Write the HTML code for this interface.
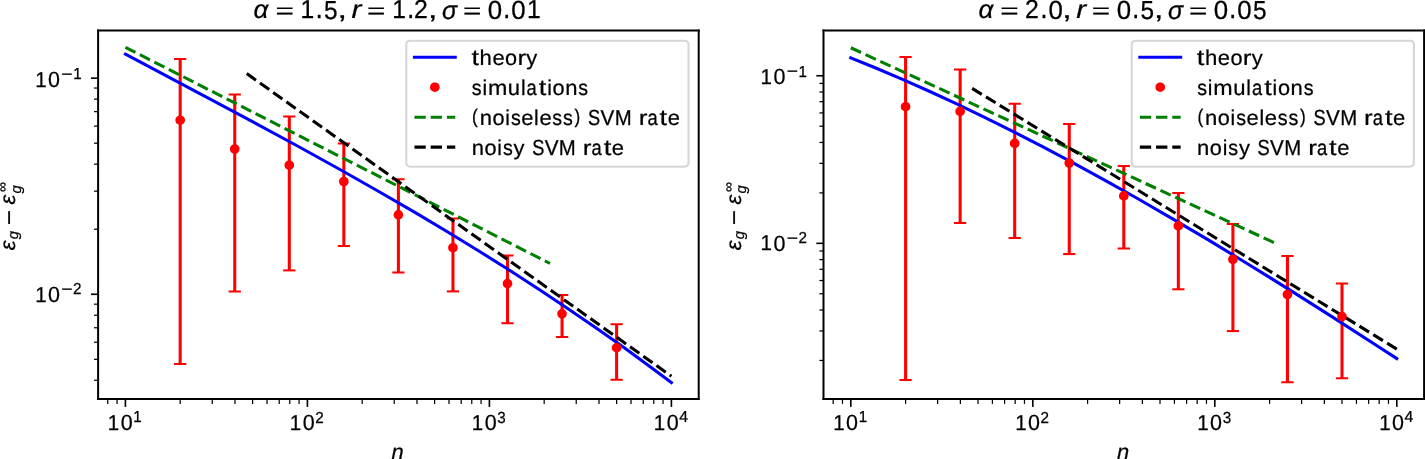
<!DOCTYPE html>
<html><head><meta charset="utf-8"><title>SVM learning curves</title>
<style>html,body{margin:0;padding:0;background:#fff;}body{width:1425px;height:459px;overflow:hidden;font-family:"Liberation Sans",sans-serif;}svg{display:block;will-change:transform;text-rendering:geometricPrecision;}</style>
</head><body>
<svg width="1425" height="459" viewBox="0 0 697.959184 224.816327" version="1.1"> <defs> <style type="text/css">*{stroke-linejoin: round; stroke-linecap: butt}</style> </defs> <g id="figure_1" font-family="'Liberation Sans', sans-serif"> <g id="patch_1"> <path d="M 0 224.816327  L 697.959184 224.816327  L 697.959184 0  L 0 0  z " style="fill: #ffffff"/> </g> <g id="axes_1"> <g id="patch_2"> <path d="M 48.04898 195.404082  L 342.220408 195.404082  L 342.220408 14.938776  L 48.04898 14.938776  z " style="fill: #ffffff"/> </g> <g id="matplotlib.axis_1"> <g id="xtick_1"> <g id="line2d_1"> <defs> <path id="mb4062c91aa" d="M 0 0  L 0 3.916327  " style="stroke: #000000; stroke-width: 0.8"/> </defs> <g> <use href="#mb4062c91aa" x="61.420408" y="195.404082" style="stroke: #000000; stroke-width: 0.8"/> </g> </g> <g id="text_1"> <g transform="translate(52.4735 210.5783)"><text transform="translate(0.332 -0.064) scale(1.0068 1.0596)" font-size="10.000" stroke="#000" stroke-width="0.119">1</text><text transform="translate(6.610 -0.027) scale(1.0541 1.0683)" font-size="10.000" stroke="#000" stroke-width="0.114">0</text><text transform="translate(12.819 -3.640) scale(1.0068 1.0596)" font-size="7.350" stroke="#000" stroke-width="0.119">1</text></g> </g> </g> <g id="xtick_2"> <g id="line2d_2"> <g> <use href="#mb4062c91aa" x="150.563265" y="195.404082" style="stroke: #000000; stroke-width: 0.8"/> </g> </g> <g id="text_2"> <g transform="translate(141.6163 211.4908)"><text transform="translate(0.332 -0.977) scale(1.0068 1.0596)" font-size="10.000" stroke="#000" stroke-width="0.119">1</text><text transform="translate(6.610 -0.939) scale(1.0541 1.0683)" font-size="10.000" stroke="#000" stroke-width="0.114">0</text><text transform="translate(12.738 -4.552) scale(1.0161 1.0629)" font-size="7.350" stroke="#000" stroke-width="0.118">2</text></g> </g> </g> <g id="xtick_3"> <g id="line2d_3"> <g> <use href="#mb4062c91aa" x="239.706122" y="195.404082" style="stroke: #000000; stroke-width: 0.8"/> </g> </g> <g id="text_3"> <g transform="translate(230.7592 211.4908)"><text transform="translate(0.332 -0.977) scale(1.0068 1.0596)" font-size="10.000" stroke="#000" stroke-width="0.119">1</text><text transform="translate(6.610 -0.939) scale(1.0541 1.0683)" font-size="10.000" stroke="#000" stroke-width="0.114">0</text><text transform="translate(12.852 -4.525) scale(1.0124 1.0683)" font-size="7.350" stroke="#000" stroke-width="0.119">3</text></g> </g> </g> <g id="xtick_4"> <g id="line2d_4"> <g> <use href="#mb4062c91aa" x="328.84898" y="195.404082" style="stroke: #000000; stroke-width: 0.8"/> </g> </g> <g id="text_4"> <g transform="translate(319.9020 210.5783)"><text transform="translate(0.332 -0.064) scale(1.0068 1.0596)" font-size="10.000" stroke="#000" stroke-width="0.119">1</text><text transform="translate(6.610 -0.027) scale(1.0541 1.0683)" font-size="10.000" stroke="#000" stroke-width="0.114">0</text><text transform="translate(12.756 -3.640) scale(1.0543 1.0596)" font-size="7.350" stroke="#000" stroke-width="0.114">4</text></g> </g> </g> <g id="xtick_5"> <g id="line2d_5"> <defs> <path id="m5da6026a95" d="M 0 0  L 0 2.416327  " style="stroke: #000000; stroke-width: 0.6"/> </defs> <g> <use href="#m5da6026a95" x="52.781573" y="195.404082" style="stroke: #000000; stroke-width: 0.6"/> </g> </g> </g> <g id="xtick_6"> <g id="line2d_6"> <g> <use href="#m5da6026a95" x="57.341455" y="195.404082" style="stroke: #000000; stroke-width: 0.6"/> </g> </g> </g> <g id="xtick_7"> <g id="line2d_7"> <g> <use href="#m5da6026a95" x="88.255082" y="195.404082" style="stroke: #000000; stroke-width: 0.6"/> </g> </g> </g> <g id="xtick_8"> <g id="line2d_8"> <g> <use href="#m5da6026a95" x="103.95236" y="195.404082" style="stroke: #000000; stroke-width: 0.6"/> </g> </g> </g> <g id="xtick_9"> <g id="line2d_9"> <g> <use href="#m5da6026a95" x="115.089756" y="195.404082" style="stroke: #000000; stroke-width: 0.6"/> </g> </g> </g> <g id="xtick_10"> <g id="line2d_10"> <g> <use href="#m5da6026a95" x="123.728591" y="195.404082" style="stroke: #000000; stroke-width: 0.6"/> </g> </g> </g> <g id="xtick_11"> <g id="line2d_11"> <g> <use href="#m5da6026a95" x="130.787034" y="195.404082" style="stroke: #000000; stroke-width: 0.6"/> </g> </g> </g> <g id="xtick_12"> <g id="line2d_12"> <g> <use href="#m5da6026a95" x="136.754862" y="195.404082" style="stroke: #000000; stroke-width: 0.6"/> </g> </g> </g> <g id="xtick_13"> <g id="line2d_13"> <g> <use href="#m5da6026a95" x="141.92443" y="195.404082" style="stroke: #000000; stroke-width: 0.6"/> </g> </g> </g> <g id="xtick_14"> <g id="line2d_14"> <g> <use href="#m5da6026a95" x="146.484312" y="195.404082" style="stroke: #000000; stroke-width: 0.6"/> </g> </g> </g> <g id="xtick_15"> <g id="line2d_15"> <g> <use href="#m5da6026a95" x="177.397939" y="195.404082" style="stroke: #000000; stroke-width: 0.6"/> </g> </g> </g> <g id="xtick_16"> <g id="line2d_16"> <g> <use href="#m5da6026a95" x="193.095217" y="195.404082" style="stroke: #000000; stroke-width: 0.6"/> </g> </g> </g> <g id="xtick_17"> <g id="line2d_17"> <g> <use href="#m5da6026a95" x="204.232613" y="195.404082" style="stroke: #000000; stroke-width: 0.6"/> </g> </g> </g> <g id="xtick_18"> <g id="line2d_18"> <g> <use href="#m5da6026a95" x="212.871449" y="195.404082" style="stroke: #000000; stroke-width: 0.6"/> </g> </g> </g> <g id="xtick_19"> <g id="line2d_19"> <g> <use href="#m5da6026a95" x="219.929891" y="195.404082" style="stroke: #000000; stroke-width: 0.6"/> </g> </g> </g> <g id="xtick_20"> <g id="line2d_20"> <g> <use href="#m5da6026a95" x="225.897719" y="195.404082" style="stroke: #000000; stroke-width: 0.6"/> </g> </g> </g> <g id="xtick_21"> <g id="line2d_21"> <g> <use href="#m5da6026a95" x="231.067287" y="195.404082" style="stroke: #000000; stroke-width: 0.6"/> </g> </g> </g> <g id="xtick_22"> <g id="line2d_22"> <g> <use href="#m5da6026a95" x="235.627169" y="195.404082" style="stroke: #000000; stroke-width: 0.6"/> </g> </g> </g> <g id="xtick_23"> <g id="line2d_23"> <g> <use href="#m5da6026a95" x="266.540796" y="195.404082" style="stroke: #000000; stroke-width: 0.6"/> </g> </g> </g> <g id="xtick_24"> <g id="line2d_24"> <g> <use href="#m5da6026a95" x="282.238074" y="195.404082" style="stroke: #000000; stroke-width: 0.6"/> </g> </g> </g> <g id="xtick_25"> <g id="line2d_25"> <g> <use href="#m5da6026a95" x="293.37547" y="195.404082" style="stroke: #000000; stroke-width: 0.6"/> </g> </g> </g> <g id="xtick_26"> <g id="line2d_26"> <g> <use href="#m5da6026a95" x="302.014306" y="195.404082" style="stroke: #000000; stroke-width: 0.6"/> </g> </g> </g> <g id="xtick_27"> <g id="line2d_27"> <g> <use href="#m5da6026a95" x="309.072748" y="195.404082" style="stroke: #000000; stroke-width: 0.6"/> </g> </g> </g> <g id="xtick_28"> <g id="line2d_28"> <g> <use href="#m5da6026a95" x="315.040576" y="195.404082" style="stroke: #000000; stroke-width: 0.6"/> </g> </g> </g> <g id="xtick_29"> <g id="line2d_29"> <g> <use href="#m5da6026a95" x="320.210144" y="195.404082" style="stroke: #000000; stroke-width: 0.6"/> </g> </g> </g> <g id="xtick_30"> <g id="line2d_30"> <g> <use href="#m5da6026a95" x="324.770026" y="195.404082" style="stroke: #000000; stroke-width: 0.6"/> </g> </g> </g> <g id="text_5"> <g transform="translate(191.5918 225.3704)"><text transform="translate(0.173 -0.406) scale(1.0741 1.0418)" font-size="10.000" font-style="italic" stroke="#000" stroke-width="0.112">n</text></g> </g> </g> <g id="matplotlib.axis_2"> <g id="ytick_1"> <g id="line2d_31"> <defs> <path id="m5d545ce8f8" d="M 0 0  L -3.5 0  " style="stroke: #000000; stroke-width: 0.8"/> </defs> <g> <use href="#m5d545ce8f8" x="48.04898" y="144.137143" style="stroke: #000000; stroke-width: 0.8"/> </g> </g> <g id="text_6"> <g transform="translate(16.9122 148.6843)"><text transform="translate(0.332 -0.977) scale(1.0068 1.0596)" font-size="10.000" stroke="#000" stroke-width="0.119">1</text><text transform="translate(6.610 -0.939) scale(1.0541 1.0683)" font-size="10.000" stroke="#000" stroke-width="0.114">0</text><text transform="translate(13.132 -4.157) scale(1.2884 1.1644)" font-size="7.350" stroke="#000" stroke-width="0.093">−</text><text transform="translate(18.848 -4.454) scale(1.0161 1.0629)" font-size="7.350" stroke="#000" stroke-width="0.118">2</text></g> </g> </g> <g id="ytick_2"> <g id="line2d_32"> <g> <use href="#m5d545ce8f8" x="48.04898" y="38.277551" style="stroke: #000000; stroke-width: 0.8"/> </g> </g> <g id="text_7"> <g transform="translate(16.9122 42.4657)"><text transform="translate(0.332 -0.064) scale(1.0068 1.0596)" font-size="10.000" stroke="#000" stroke-width="0.119">1</text><text transform="translate(6.610 -0.027) scale(1.0541 1.0683)" font-size="10.000" stroke="#000" stroke-width="0.114">0</text><text transform="translate(13.132 -3.245) scale(1.2884 1.1644)" font-size="7.350" stroke="#000" stroke-width="0.093">−</text><text transform="translate(18.929 -3.542) scale(1.0068 1.0596)" font-size="7.350" stroke="#000" stroke-width="0.119">1</text></g> </g> </g> <g id="ytick_3"> <g id="line2d_33"> <defs> <path id="mc3d89a154a" d="M 0 0  L -2 0  " style="stroke: #000000; stroke-width: 0.6"/> </defs> <g> <use href="#mc3d89a154a" x="48.04898" y="186.26291" style="stroke: #000000; stroke-width: 0.6"/> </g> </g> </g> <g id="ytick_4"> <g id="line2d_34"> <g> <use href="#mc3d89a154a" x="48.04898" y="176.004055" style="stroke: #000000; stroke-width: 0.6"/> </g> </g> </g> <g id="ytick_5"> <g id="line2d_35"> <g> <use href="#mc3d89a154a" x="48.04898" y="167.621961" style="stroke: #000000; stroke-width: 0.6"/> </g> </g> </g> <g id="ytick_6"> <g id="line2d_36"> <g> <use href="#mc3d89a154a" x="48.04898" y="160.535001" style="stroke: #000000; stroke-width: 0.6"/> </g> </g> </g> <g id="ytick_7"> <g id="line2d_37"> <g> <use href="#mc3d89a154a" x="48.04898" y="154.395997" style="stroke: #000000; stroke-width: 0.6"/> </g> </g> </g> <g id="ytick_8"> <g id="line2d_38"> <g> <use href="#mc3d89a154a" x="48.04898" y="148.981012" style="stroke: #000000; stroke-width: 0.6"/> </g> </g> </g> <g id="ytick_9"> <g id="line2d_39"> <g> <use href="#mc3d89a154a" x="48.04898" y="112.27023" style="stroke: #000000; stroke-width: 0.6"/> </g> </g> </g> <g id="ytick_10"> <g id="line2d_40"> <g> <use href="#mc3d89a154a" x="48.04898" y="93.629282" style="stroke: #000000; stroke-width: 0.6"/> </g> </g> </g> <g id="ytick_11"> <g id="line2d_41"> <g> <use href="#mc3d89a154a" x="48.04898" y="80.403318" style="stroke: #000000; stroke-width: 0.6"/> </g> </g> </g> <g id="ytick_12"> <g id="line2d_42"> <g> <use href="#mc3d89a154a" x="48.04898" y="70.144463" style="stroke: #000000; stroke-width: 0.6"/> </g> </g> </g> <g id="ytick_13"> <g id="line2d_43"> <g> <use href="#mc3d89a154a" x="48.04898" y="61.762369" style="stroke: #000000; stroke-width: 0.6"/> </g> </g> </g> <g id="ytick_14"> <g id="line2d_44"> <g> <use href="#mc3d89a154a" x="48.04898" y="54.675409" style="stroke: #000000; stroke-width: 0.6"/> </g> </g> </g> <g id="ytick_15"> <g id="line2d_45"> <g> <use href="#mc3d89a154a" x="48.04898" y="48.536405" style="stroke: #000000; stroke-width: 0.6"/> </g> </g> </g> <g id="ytick_16"> <g id="line2d_46"> <g> <use href="#mc3d89a154a" x="48.04898" y="43.12142" style="stroke: #000000; stroke-width: 0.6"/> </g> </g> </g> <g id="text_8"> <g transform="translate(8.1735 122.8122) rotate(-90)"><text transform="translate(0.212 -0.720) scale(1.0730 1.0500)" font-size="10.000" font-style="italic" stroke="#000" stroke-width="0.112">ε</text><text transform="translate(22.610 -0.720) scale(1.0730 1.0500)" font-size="10.000" font-style="italic" stroke="#000" stroke-width="0.112">ε</text><text transform="translate(5.617 0.840) scale(1.0340 1.0308)" font-size="7.000" font-style="italic" stroke="#000" stroke-width="0.116">g</text><text transform="translate(28.014 1.934) scale(1.0340 1.0308)" font-size="7.000" font-style="italic" stroke="#000" stroke-width="0.116">g</text><text transform="translate(12.494 -0.022) scale(1.2884 1.1644)" font-size="10.000" stroke="#000" stroke-width="0.093">−</text><text transform="translate(28.728 -4.687) scale(0.9844 0.9846)" font-size="7.000" stroke="#000" stroke-width="0.122">∞</text></g> </g> </g> <g id="LineCollection_1"> <path d="M 88.255082 178.334694  L 88.255082 28.897959  " clip-path="url(#p99e8277ba4)" style="fill: none; stroke: #ff0000; stroke-width: 1.5"/> <path d="M 114.974985 142.726531  L 114.974985 46.334694  " clip-path="url(#p99e8277ba4)" style="fill: none; stroke: #ff0000; stroke-width: 1.5"/> <path d="M 141.694888 132.440816  L 141.694888 57.061224  " clip-path="url(#p99e8277ba4)" style="fill: none; stroke: #ff0000; stroke-width: 1.5"/> <path d="M 168.414791 120.538776  L 168.414791 70.334694  " clip-path="url(#p99e8277ba4)" style="fill: none; stroke: #ff0000; stroke-width: 1.5"/> <path d="M 195.134694 133.469388  L 195.134694 87.820408  " clip-path="url(#p99e8277ba4)" style="fill: none; stroke: #ff0000; stroke-width: 1.5"/> <path d="M 221.854597 142.726531  L 221.854597 106.971429  " clip-path="url(#p99e8277ba4)" style="fill: none; stroke: #ff0000; stroke-width: 1.5"/> <path d="M 248.5745 158.302041  L 248.5745 125.142857  " clip-path="url(#p99e8277ba4)" style="fill: none; stroke: #ff0000; stroke-width: 1.5"/> <path d="M 275.294403 165.110204  L 275.294403 144.489796  " clip-path="url(#p99e8277ba4)" style="fill: none; stroke: #ff0000; stroke-width: 1.5"/> <path d="M 302.014306 185.97551  L 302.014306 158.840816  " clip-path="url(#p99e8277ba4)" style="fill: none; stroke: #ff0000; stroke-width: 1.5"/> </g> <g id="line2d_47"> <defs> <path id="m98ba5d0a64" d="M 3 0  L -3 -0  " style="stroke: #ff0000"/> </defs> <g clip-path="url(#p99e8277ba4)"> <use href="#m98ba5d0a64" x="88.255082" y="178.334694" style="fill: #1f77b4; stroke: #ff0000"/> <use href="#m98ba5d0a64" x="114.974985" y="142.726531" style="fill: #1f77b4; stroke: #ff0000"/> <use href="#m98ba5d0a64" x="141.694888" y="132.440816" style="fill: #1f77b4; stroke: #ff0000"/> <use href="#m98ba5d0a64" x="168.414791" y="120.538776" style="fill: #1f77b4; stroke: #ff0000"/> <use href="#m98ba5d0a64" x="195.134694" y="133.469388" style="fill: #1f77b4; stroke: #ff0000"/> <use href="#m98ba5d0a64" x="221.854597" y="142.726531" style="fill: #1f77b4; stroke: #ff0000"/> <use href="#m98ba5d0a64" x="248.5745" y="158.302041" style="fill: #1f77b4; stroke: #ff0000"/> <use href="#m98ba5d0a64" x="275.294403" y="165.110204" style="fill: #1f77b4; stroke: #ff0000"/> <use href="#m98ba5d0a64" x="302.014306" y="185.97551" style="fill: #1f77b4; stroke: #ff0000"/> </g> </g> <g id="line2d_48"> <g clip-path="url(#p99e8277ba4)"> <use href="#m98ba5d0a64" x="88.255082" y="28.897959" style="fill: #1f77b4; stroke: #ff0000"/> <use href="#m98ba5d0a64" x="114.974985" y="46.334694" style="fill: #1f77b4; stroke: #ff0000"/> <use href="#m98ba5d0a64" x="141.694888" y="57.061224" style="fill: #1f77b4; stroke: #ff0000"/> <use href="#m98ba5d0a64" x="168.414791" y="70.334694" style="fill: #1f77b4; stroke: #ff0000"/> <use href="#m98ba5d0a64" x="195.134694" y="87.820408" style="fill: #1f77b4; stroke: #ff0000"/> <use href="#m98ba5d0a64" x="221.854597" y="106.971429" style="fill: #1f77b4; stroke: #ff0000"/> <use href="#m98ba5d0a64" x="248.5745" y="125.142857" style="fill: #1f77b4; stroke: #ff0000"/> <use href="#m98ba5d0a64" x="275.294403" y="144.489796" style="fill: #1f77b4; stroke: #ff0000"/> <use href="#m98ba5d0a64" x="302.014306" y="158.840816" style="fill: #1f77b4; stroke: #ff0000"/> </g> </g> <g id="line2d_49"> <path d="M 61.420408 26.552547  L 120.451464 57.844123  L 145.494942 71.396594  L 166.960781 83.265566  L 185.74339 93.898895  L 203.631588 104.284883  L 219.730967 113.88151  L 234.935936 123.18871  L 250.140905 132.757383  L 264.451464 142.023756  L 278.762023 151.563429  L 292.178172 160.773056  L 305.594321 170.257303  L 318.11606 179.371726  L 328.84898 187.396301  L 328.84898 187.396301  " clip-path="url(#p99e8277ba4)" style="fill: none; stroke: #0000ff; stroke-width: 1.5; stroke-linecap: square"/> </g> <g id="line2d_50"> <path d="M 61.420408 23.167347  L 269.420408 129.061224  " clip-path="url(#p99e8277ba4)" style="fill: none; stroke-dasharray: 5.55,2.4; stroke-dashoffset: 0; stroke: #008000; stroke-width: 1.5"/> </g> <g id="line2d_51"> <path d="M 120.84898 36.04898  L 328.84898 184.261224  " clip-path="url(#p99e8277ba4)" style="fill: none; stroke-dasharray: 5.55,2.4; stroke-dashoffset: 0; stroke: #000000; stroke-width: 1.5"/> </g> <g id="line2d_52"> <defs> <path id="m5010040dd1" d="M 0 2.35  C 0.623227 2.35 1.221013 2.102389 1.661701 1.661701  C 2.102389 1.221013 2.35 0.623227 2.35 0  C 2.35 -0.623227 2.102389 -1.221013 1.661701 -1.661701  C 1.221013 -2.102389 0.623227 -2.35 0 -2.35  C -0.623227 -2.35 -1.221013 -2.102389 -1.661701 -1.661701  C -2.102389 -1.221013 -2.35 -0.623227 -2.35 0  C -2.35 0.623227 -2.102389 1.221013 -1.661701 1.661701  C -1.221013 2.102389 -0.623227 2.35 0 2.35  z "/> </defs> <g clip-path="url(#p99e8277ba4)"> <use href="#m5010040dd1" x="88.255082" y="58.873469" style="fill: #ff0000"/> <use href="#m5010040dd1" x="114.974985" y="72.979592" style="fill: #ff0000"/> <use href="#m5010040dd1" x="141.694888" y="80.914286" style="fill: #ff0000"/> <use href="#m5010040dd1" x="168.414791" y="88.897959" style="fill: #ff0000"/> <use href="#m5010040dd1" x="195.134694" y="105.208163" style="fill: #ff0000"/> <use href="#m5010040dd1" x="221.854597" y="121.322449" style="fill: #ff0000"/> <use href="#m5010040dd1" x="248.5745" y="138.906122" style="fill: #ff0000"/> <use href="#m5010040dd1" x="275.294403" y="153.697959" style="fill: #ff0000"/> <use href="#m5010040dd1" x="302.014306" y="170.302041" style="fill: #ff0000"/> </g> </g> <g id="patch_3"> <path d="M 48.04898 195.404082  L 48.04898 14.938776  " style="fill: none; stroke: #000000; stroke-width: 0.979592; stroke-linejoin: miter; stroke-linecap: square"/> </g> <g id="patch_4"> <path d="M 342.220408 195.404082  L 342.220408 14.938776  " style="fill: none; stroke: #000000; stroke-width: 0.979592; stroke-linejoin: miter; stroke-linecap: square"/> </g> <g id="patch_5"> <path d="M 48.04898 195.404082  L 342.220408 195.404082  " style="fill: none; stroke: #000000; stroke-width: 0.979592; stroke-linejoin: miter; stroke-linecap: square"/> </g> <g id="patch_6"> <path d="M 48.04898 14.938776  L 342.220408 14.938776  " style="fill: none; stroke: #000000; stroke-width: 0.979592; stroke-linejoin: miter; stroke-linecap: square"/> </g> <g id="text_9"> <g transform="translate(124.1229 9.1347)"><text transform="translate(0.101 -0.075) scale(1.0721 1.0429)" font-size="12.000" font-style="italic" stroke="#000" stroke-width="0.112">α</text><text transform="translate(48.055 -0.094) scale(1.2218 1.0408)" font-size="12.000" font-style="italic" stroke="#000" stroke-width="0.098">r</text><text transform="translate(92.320 -0.046) scale(1.0172 1.0436)" font-size="12.000" font-style="italic" stroke="#000" stroke-width="0.118">σ</text><text transform="translate(10.765 -0.391) scale(1.2884 0.8758)" font-size="12.000" stroke="#000" stroke-width="0.093">=</text><text transform="translate(23.039 -0.094) scale(1.0068 1.0596)" font-size="12.000" stroke="#000" stroke-width="0.119">1</text><text transform="translate(30.373 -0.094) scale(1.0821 1.1598)" font-size="12.000" stroke="#000" stroke-width="0.111">.</text><text transform="translate(34.538 -0.049) scale(0.9949 1.0651)" font-size="12.000" stroke="#000" stroke-width="0.121">5</text><text transform="translate(41.079 -0.269) scale(1.4577 1.0229)" font-size="12.000" stroke="#000" stroke-width="0.082">,</text><text transform="translate(55.665 -0.391) scale(1.2884 0.8758)" font-size="12.000" stroke="#000" stroke-width="0.093">=</text><text transform="translate(67.939 -0.094) scale(1.0068 1.0596)" font-size="12.000" stroke="#000" stroke-width="0.119">1</text><text transform="translate(75.273 -0.094) scale(1.0821 1.1598)" font-size="12.000" stroke="#000" stroke-width="0.111">.</text><text transform="translate(78.631 -0.094) scale(1.0161 1.0629)" font-size="12.000" stroke="#000" stroke-width="0.118">2</text><text transform="translate(85.354 -0.269) scale(1.4577 1.0229)" font-size="12.000" stroke="#000" stroke-width="0.082">,</text><text transform="translate(102.612 -0.391) scale(1.2884 0.8758)" font-size="12.000" stroke="#000" stroke-width="0.093">=</text><text transform="translate(114.785 -0.049) scale(1.0541 1.0683)" font-size="12.000" stroke="#000" stroke-width="0.114">0</text><text transform="translate(122.221 -0.094) scale(1.0821 1.1598)" font-size="12.000" stroke="#000" stroke-width="0.111">.</text><text transform="translate(126.234 -0.049) scale(1.0541 1.0683)" font-size="12.000" stroke="#000" stroke-width="0.114">0</text><text transform="translate(133.970 -0.094) scale(1.0068 1.0596)" font-size="12.000" stroke="#000" stroke-width="0.119">1</text></g> </g> <g id="legend_1"> <g id="patch_7"> <path d="M 200.984471 81.651276  L 335.220408 81.651276  Q 337.220408 81.651276 337.220408 79.651276  L 337.220408 21.938776  Q 337.220408 19.938776 335.220408 19.938776  L 200.984471 19.938776  Q 198.984471 19.938776 198.984471 21.938776  L 198.984471 79.651276  Q 198.984471 81.651276 200.984471 81.651276  z " style="fill: #ffffff; opacity: 0.8; stroke: #cccccc; stroke-linejoin: miter"/> </g> <g id="line2d_53"> <path d="M 202.984471 28.037213  L 212.984471 28.037213  L 222.984471 28.037213  " style="fill: none; stroke: #0000ff; stroke-width: 1.5; stroke-linecap: square"/> </g> <g id="text_10"> <text transform="translate(230.904 31.674) scale(1.3365 1.0731)" font-size="10.000" stroke="#000" stroke-width="0.090">t</text><text transform="translate(234.914 31.758) scale(1.0856 1.0485)" font-size="10.000" stroke="#000" stroke-width="0.111">h</text><text transform="translate(241.189 31.797) scale(1.0801 1.0481)" font-size="10.000" stroke="#000" stroke-width="0.111">e</text><text transform="translate(247.354 31.797) scale(1.0631 1.0481)" font-size="10.000" stroke="#000" stroke-width="0.113">o</text><text transform="translate(253.424 31.758) scale(1.2812 1.0408)" font-size="10.000" stroke="#000" stroke-width="0.094">r</text><text transform="translate(257.750 31.709) scale(1.0739 1.0259)" font-size="10.000" stroke="#000" stroke-width="0.112">y</text> </g> <g id="line2d_54"> <g> <use href="#m5010040dd1" x="212.984471" y="42.715338" style="fill: #ff0000"/> </g> </g> <g id="text_11"> <text transform="translate(231.113 46.475) scale(0.9586 1.0509)" font-size="10.000" stroke="#000" stroke-width="0.125">s</text><text transform="translate(236.306 46.436) scale(1.0222 1.0485)" font-size="10.000" stroke="#000" stroke-width="0.117">i</text><text transform="translate(238.977 46.436) scale(1.1394 1.0408)" font-size="10.000" stroke="#000" stroke-width="0.105">m</text><text transform="translate(248.716 46.473) scale(1.0782 1.0672)" font-size="10.000" stroke="#000" stroke-width="0.111">u</text><text transform="translate(255.158 46.436) scale(1.0222 1.0485)" font-size="10.000" stroke="#000" stroke-width="0.117">l</text><text transform="translate(257.902 46.475) scale(0.8992 1.0481)" font-size="10.000" stroke="#000" stroke-width="0.133">a</text><text transform="translate(263.877 46.352) scale(1.3365 1.0731)" font-size="10.000" stroke="#000" stroke-width="0.090">t</text><text transform="translate(267.991 46.436) scale(1.0222 1.0485)" font-size="10.000" stroke="#000" stroke-width="0.117">i</text><text transform="translate(270.616 46.475) scale(1.0631 1.0481)" font-size="10.000" stroke="#000" stroke-width="0.113">o</text><text transform="translate(276.821 46.436) scale(1.0782 1.0408)" font-size="10.000" stroke="#000" stroke-width="0.111">n</text><text transform="translate(283.242 46.475) scale(0.9586 1.0509)" font-size="10.000" stroke="#000" stroke-width="0.125">s</text> </g> <g id="line2d_55"> <path d="M 202.984471 57.393463  L 212.984471 57.393463  L 222.984471 57.393463  " style="fill: none; stroke-dasharray: 5.55,2.4; stroke-dashoffset: 0; stroke: #008000; stroke-width: 1.5"/> </g> <g id="text_12"> <text transform="translate(231.173 60.453) scale(0.8453 0.9560)" font-size="10.000" stroke="#000" stroke-width="0.142">(</text><text transform="translate(234.931 61.114) scale(1.0782 1.0408)" font-size="10.000" stroke="#000" stroke-width="0.111">n</text><text transform="translate(241.182 61.153) scale(1.0631 1.0481)" font-size="10.000" stroke="#000" stroke-width="0.113">o</text><text transform="translate(247.454 61.114) scale(1.0222 1.0485)" font-size="10.000" stroke="#000" stroke-width="0.117">i</text><text transform="translate(250.248 61.153) scale(0.9586 1.0509)" font-size="10.000" stroke="#000" stroke-width="0.125">s</text><text transform="translate(255.276 61.153) scale(1.0801 1.0481)" font-size="10.000" stroke="#000" stroke-width="0.111">e</text><text transform="translate(261.589 61.114) scale(1.0222 1.0485)" font-size="10.000" stroke="#000" stroke-width="0.117">l</text><text transform="translate(264.207 61.153) scale(1.0801 1.0481)" font-size="10.000" stroke="#000" stroke-width="0.111">e</text><text transform="translate(270.541 61.153) scale(0.9586 1.0509)" font-size="10.000" stroke="#000" stroke-width="0.125">s</text><text transform="translate(275.751 61.153) scale(0.9586 1.0509)" font-size="10.000" stroke="#000" stroke-width="0.125">s</text><text transform="translate(281.437 60.453) scale(0.8453 0.9560)" font-size="10.000" stroke="#000" stroke-width="0.142">)</text><text transform="translate(288.021 61.151) scale(0.8914 1.0683)" font-size="10.000" stroke="#000" stroke-width="0.135">S</text><text transform="translate(294.147 61.114) scale(1.0148 1.0596)" font-size="10.000" stroke="#000" stroke-width="0.118">V</text><text transform="translate(301.118 61.114) scale(0.9971 1.0596)" font-size="10.000" stroke="#000" stroke-width="0.120">M</text><text transform="translate(312.819 61.114) scale(1.2812 1.0408)" font-size="10.000" stroke="#000" stroke-width="0.094">r</text><text transform="translate(317.091 61.153) scale(0.8992 1.0481)" font-size="10.000" stroke="#000" stroke-width="0.133">a</text><text transform="translate(323.067 61.030) scale(1.3365 1.0731)" font-size="10.000" stroke="#000" stroke-width="0.090">t</text><text transform="translate(327.014 61.153) scale(1.0801 1.0481)" font-size="10.000" stroke="#000" stroke-width="0.111">e</text> </g> <g id="line2d_56"> <path d="M 202.984471 72.071588  L 212.984471 72.071588  L 222.984471 72.071588  " style="fill: none; stroke-dasharray: 5.55,2.4; stroke-dashoffset: 0; stroke: #000000; stroke-width: 1.5"/> </g> <g id="text_13"> <text transform="translate(231.030 75.792) scale(1.0782 1.0408)" font-size="10.000" stroke="#000" stroke-width="0.111">n</text><text transform="translate(237.281 75.831) scale(1.0631 1.0481)" font-size="10.000" stroke="#000" stroke-width="0.113">o</text><text transform="translate(243.552 75.792) scale(1.0222 1.0485)" font-size="10.000" stroke="#000" stroke-width="0.117">i</text><text transform="translate(246.347 75.831) scale(0.9586 1.0509)" font-size="10.000" stroke="#000" stroke-width="0.125">s</text><text transform="translate(251.554 75.743) scale(1.0739 1.0259)" font-size="10.000" stroke="#000" stroke-width="0.112">y</text><text transform="translate(260.633 75.829) scale(0.8914 1.0683)" font-size="10.000" stroke="#000" stroke-width="0.135">S</text><text transform="translate(266.760 75.792) scale(1.0148 1.0596)" font-size="10.000" stroke="#000" stroke-width="0.118">V</text><text transform="translate(273.731 75.792) scale(0.9971 1.0596)" font-size="10.000" stroke="#000" stroke-width="0.120">M</text><text transform="translate(285.431 75.792) scale(1.2812 1.0408)" font-size="10.000" stroke="#000" stroke-width="0.094">r</text><text transform="translate(289.704 75.831) scale(0.8992 1.0481)" font-size="10.000" stroke="#000" stroke-width="0.133">a</text><text transform="translate(295.679 75.708) scale(1.3365 1.0731)" font-size="10.000" stroke="#000" stroke-width="0.090">t</text><text transform="translate(299.627 75.831) scale(1.0801 1.0481)" font-size="10.000" stroke="#000" stroke-width="0.111">e</text> </g> </g> </g> <g id="axes_2"> <g id="patch_8"> <path d="M 403.346939 195.404082  L 697.518367 195.404082  L 697.518367 14.938776  L 403.346939 14.938776  z " style="fill: #ffffff"/> </g> <g id="matplotlib.axis_3"> <g id="xtick_31"> <g id="line2d_57"> <g> <use href="#mb4062c91aa" x="416.718367" y="195.404082" style="stroke: #000000; stroke-width: 0.8"/> </g> </g> <g id="text_14"> <g transform="translate(407.7714 210.5783)"><text transform="translate(0.332 -0.064) scale(1.0068 1.0596)" font-size="10.000" stroke="#000" stroke-width="0.119">1</text><text transform="translate(6.610 -0.027) scale(1.0541 1.0683)" font-size="10.000" stroke="#000" stroke-width="0.114">0</text><text transform="translate(12.819 -3.640) scale(1.0068 1.0596)" font-size="7.350" stroke="#000" stroke-width="0.119">1</text></g> </g> </g> <g id="xtick_32"> <g id="line2d_58"> <g> <use href="#mb4062c91aa" x="505.861224" y="195.404082" style="stroke: #000000; stroke-width: 0.8"/> </g> </g> <g id="text_15"> <g transform="translate(496.9143 211.4908)"><text transform="translate(0.332 -0.977) scale(1.0068 1.0596)" font-size="10.000" stroke="#000" stroke-width="0.119">1</text><text transform="translate(6.610 -0.939) scale(1.0541 1.0683)" font-size="10.000" stroke="#000" stroke-width="0.114">0</text><text transform="translate(12.738 -4.552) scale(1.0161 1.0629)" font-size="7.350" stroke="#000" stroke-width="0.118">2</text></g> </g> </g> <g id="xtick_33"> <g id="line2d_59"> <g> <use href="#mb4062c91aa" x="595.004082" y="195.404082" style="stroke: #000000; stroke-width: 0.8"/> </g> </g> <g id="text_16"> <g transform="translate(586.0571 211.4908)"><text transform="translate(0.332 -0.977) scale(1.0068 1.0596)" font-size="10.000" stroke="#000" stroke-width="0.119">1</text><text transform="translate(6.610 -0.939) scale(1.0541 1.0683)" font-size="10.000" stroke="#000" stroke-width="0.114">0</text><text transform="translate(12.852 -4.525) scale(1.0124 1.0683)" font-size="7.350" stroke="#000" stroke-width="0.119">3</text></g> </g> </g> <g id="xtick_34"> <g id="line2d_60"> <g> <use href="#mb4062c91aa" x="684.146939" y="195.404082" style="stroke: #000000; stroke-width: 0.8"/> </g> </g> <g id="text_17"> <g transform="translate(675.2000 210.5783)"><text transform="translate(0.332 -0.064) scale(1.0068 1.0596)" font-size="10.000" stroke="#000" stroke-width="0.119">1</text><text transform="translate(6.610 -0.027) scale(1.0541 1.0683)" font-size="10.000" stroke="#000" stroke-width="0.114">0</text><text transform="translate(12.756 -3.640) scale(1.0543 1.0596)" font-size="7.350" stroke="#000" stroke-width="0.114">4</text></g> </g> </g> <g id="xtick_35"> <g id="line2d_61"> <g> <use href="#m5da6026a95" x="408.079532" y="195.404082" style="stroke: #000000; stroke-width: 0.6"/> </g> </g> </g> <g id="xtick_36"> <g id="line2d_62"> <g> <use href="#m5da6026a95" x="412.639414" y="195.404082" style="stroke: #000000; stroke-width: 0.6"/> </g> </g> </g> <g id="xtick_37"> <g id="line2d_63"> <g> <use href="#m5da6026a95" x="443.553041" y="195.404082" style="stroke: #000000; stroke-width: 0.6"/> </g> </g> </g> <g id="xtick_38"> <g id="line2d_64"> <g> <use href="#m5da6026a95" x="459.250319" y="195.404082" style="stroke: #000000; stroke-width: 0.6"/> </g> </g> </g> <g id="xtick_39"> <g id="line2d_65"> <g> <use href="#m5da6026a95" x="470.387715" y="195.404082" style="stroke: #000000; stroke-width: 0.6"/> </g> </g> </g> <g id="xtick_40"> <g id="line2d_66"> <g> <use href="#m5da6026a95" x="479.026551" y="195.404082" style="stroke: #000000; stroke-width: 0.6"/> </g> </g> </g> <g id="xtick_41"> <g id="line2d_67"> <g> <use href="#m5da6026a95" x="486.084993" y="195.404082" style="stroke: #000000; stroke-width: 0.6"/> </g> </g> </g> <g id="xtick_42"> <g id="line2d_68"> <g> <use href="#m5da6026a95" x="492.052821" y="195.404082" style="stroke: #000000; stroke-width: 0.6"/> </g> </g> </g> <g id="xtick_43"> <g id="line2d_69"> <g> <use href="#m5da6026a95" x="497.222389" y="195.404082" style="stroke: #000000; stroke-width: 0.6"/> </g> </g> </g> <g id="xtick_44"> <g id="line2d_70"> <g> <use href="#m5da6026a95" x="501.782271" y="195.404082" style="stroke: #000000; stroke-width: 0.6"/> </g> </g> </g> <g id="xtick_45"> <g id="line2d_71"> <g> <use href="#m5da6026a95" x="532.695898" y="195.404082" style="stroke: #000000; stroke-width: 0.6"/> </g> </g> </g> <g id="xtick_46"> <g id="line2d_72"> <g> <use href="#m5da6026a95" x="548.393176" y="195.404082" style="stroke: #000000; stroke-width: 0.6"/> </g> </g> </g> <g id="xtick_47"> <g id="line2d_73"> <g> <use href="#m5da6026a95" x="559.530572" y="195.404082" style="stroke: #000000; stroke-width: 0.6"/> </g> </g> </g> <g id="xtick_48"> <g id="line2d_74"> <g> <use href="#m5da6026a95" x="568.169408" y="195.404082" style="stroke: #000000; stroke-width: 0.6"/> </g> </g> </g> <g id="xtick_49"> <g id="line2d_75"> <g> <use href="#m5da6026a95" x="575.22785" y="195.404082" style="stroke: #000000; stroke-width: 0.6"/> </g> </g> </g> <g id="xtick_50"> <g id="line2d_76"> <g> <use href="#m5da6026a95" x="581.195678" y="195.404082" style="stroke: #000000; stroke-width: 0.6"/> </g> </g> </g> <g id="xtick_51"> <g id="line2d_77"> <g> <use href="#m5da6026a95" x="586.365246" y="195.404082" style="stroke: #000000; stroke-width: 0.6"/> </g> </g> </g> <g id="xtick_52"> <g id="line2d_78"> <g> <use href="#m5da6026a95" x="590.925128" y="195.404082" style="stroke: #000000; stroke-width: 0.6"/> </g> </g> </g> <g id="xtick_53"> <g id="line2d_79"> <g> <use href="#m5da6026a95" x="621.838756" y="195.404082" style="stroke: #000000; stroke-width: 0.6"/> </g> </g> </g> <g id="xtick_54"> <g id="line2d_80"> <g> <use href="#m5da6026a95" x="637.536033" y="195.404082" style="stroke: #000000; stroke-width: 0.6"/> </g> </g> </g> <g id="xtick_55"> <g id="line2d_81"> <g> <use href="#m5da6026a95" x="648.673429" y="195.404082" style="stroke: #000000; stroke-width: 0.6"/> </g> </g> </g> <g id="xtick_56"> <g id="line2d_82"> <g> <use href="#m5da6026a95" x="657.312265" y="195.404082" style="stroke: #000000; stroke-width: 0.6"/> </g> </g> </g> <g id="xtick_57"> <g id="line2d_83"> <g> <use href="#m5da6026a95" x="664.370707" y="195.404082" style="stroke: #000000; stroke-width: 0.6"/> </g> </g> </g> <g id="xtick_58"> <g id="line2d_84"> <g> <use href="#m5da6026a95" x="670.338535" y="195.404082" style="stroke: #000000; stroke-width: 0.6"/> </g> </g> </g> <g id="xtick_59"> <g id="line2d_85"> <g> <use href="#m5da6026a95" x="675.508103" y="195.404082" style="stroke: #000000; stroke-width: 0.6"/> </g> </g> </g> <g id="xtick_60"> <g id="line2d_86"> <g> <use href="#m5da6026a95" x="680.067985" y="195.404082" style="stroke: #000000; stroke-width: 0.6"/> </g> </g> </g> <g id="text_18"> <g transform="translate(546.8898 225.3704)"><text transform="translate(0.173 -0.406) scale(1.0741 1.0418)" font-size="10.000" font-style="italic" stroke="#000" stroke-width="0.112">n</text></g> </g> </g> <g id="matplotlib.axis_4"> <g id="ytick_17"> <g id="line2d_87"> <g> <use href="#m5d545ce8f8" x="403.346939" y="119.182041" style="stroke: #000000; stroke-width: 0.8"/> </g> </g> <g id="text_19"> <g transform="translate(372.2102 123.6704)"><text transform="translate(0.332 -0.977) scale(1.0068 1.0596)" font-size="10.000" stroke="#000" stroke-width="0.119">1</text><text transform="translate(6.610 -0.939) scale(1.0541 1.0683)" font-size="10.000" stroke="#000" stroke-width="0.114">0</text><text transform="translate(13.132 -4.157) scale(1.2884 1.1644)" font-size="7.350" stroke="#000" stroke-width="0.093">−</text><text transform="translate(18.848 -4.454) scale(1.0161 1.0629)" font-size="7.350" stroke="#000" stroke-width="0.118">2</text></g> </g> </g> <g id="ytick_18"> <g id="line2d_88"> <g> <use href="#m5d545ce8f8" x="403.346939" y="37.106939" style="stroke: #000000; stroke-width: 0.8"/> </g> </g> <g id="text_20"> <g transform="translate(372.2102 41.0894)"><text transform="translate(0.332 -0.064) scale(1.0068 1.0596)" font-size="10.000" stroke="#000" stroke-width="0.119">1</text><text transform="translate(6.610 -0.027) scale(1.0541 1.0683)" font-size="10.000" stroke="#000" stroke-width="0.114">0</text><text transform="translate(13.132 -3.245) scale(1.2884 1.1644)" font-size="7.350" stroke="#000" stroke-width="0.093">−</text><text transform="translate(18.929 -3.542) scale(1.0068 1.0596)" font-size="7.350" stroke="#000" stroke-width="0.119">1</text></g> </g> </g> <g id="ytick_19"> <g id="line2d_89"> <g> <use href="#mc3d89a154a" x="403.346939" y="176.550075" style="stroke: #000000; stroke-width: 0.6"/> </g> </g> </g> <g id="ytick_20"> <g id="line2d_90"> <g> <use href="#mc3d89a154a" x="403.346939" y="162.097367" style="stroke: #000000; stroke-width: 0.6"/> </g> </g> </g> <g id="ytick_21"> <g id="line2d_91"> <g> <use href="#mc3d89a154a" x="403.346939" y="151.843008" style="stroke: #000000; stroke-width: 0.6"/> </g> </g> </g> <g id="ytick_22"> <g id="line2d_92"> <g> <use href="#mc3d89a154a" x="403.346939" y="143.889108" style="stroke: #000000; stroke-width: 0.6"/> </g> </g> </g> <g id="ytick_23"> <g id="line2d_93"> <g> <use href="#mc3d89a154a" x="403.346939" y="137.3903" style="stroke: #000000; stroke-width: 0.6"/> </g> </g> </g> <g id="ytick_24"> <g id="line2d_94"> <g> <use href="#mc3d89a154a" x="403.346939" y="131.895635" style="stroke: #000000; stroke-width: 0.6"/> </g> </g> </g> <g id="ytick_25"> <g id="line2d_95"> <g> <use href="#mc3d89a154a" x="403.346939" y="127.13594" style="stroke: #000000; stroke-width: 0.6"/> </g> </g> </g> <g id="ytick_26"> <g id="line2d_96"> <g> <use href="#mc3d89a154a" x="403.346939" y="122.937592" style="stroke: #000000; stroke-width: 0.6"/> </g> </g> </g> <g id="ytick_27"> <g id="line2d_97"> <g> <use href="#mc3d89a154a" x="403.346939" y="94.474973" style="stroke: #000000; stroke-width: 0.6"/> </g> </g> </g> <g id="ytick_28"> <g id="line2d_98"> <g> <use href="#mc3d89a154a" x="403.346939" y="80.022265" style="stroke: #000000; stroke-width: 0.6"/> </g> </g> </g> <g id="ytick_29"> <g id="line2d_99"> <g> <use href="#mc3d89a154a" x="403.346939" y="69.767906" style="stroke: #000000; stroke-width: 0.6"/> </g> </g> </g> <g id="ytick_30"> <g id="line2d_100"> <g> <use href="#mc3d89a154a" x="403.346939" y="61.814006" style="stroke: #000000; stroke-width: 0.6"/> </g> </g> </g> <g id="ytick_31"> <g id="line2d_101"> <g> <use href="#mc3d89a154a" x="403.346939" y="55.315198" style="stroke: #000000; stroke-width: 0.6"/> </g> </g> </g> <g id="ytick_32"> <g id="line2d_102"> <g> <use href="#mc3d89a154a" x="403.346939" y="49.820533" style="stroke: #000000; stroke-width: 0.6"/> </g> </g> </g> <g id="ytick_33"> <g id="line2d_103"> <g> <use href="#mc3d89a154a" x="403.346939" y="45.060838" style="stroke: #000000; stroke-width: 0.6"/> </g> </g> </g> <g id="ytick_34"> <g id="line2d_104"> <g> <use href="#mc3d89a154a" x="403.346939" y="40.862489" style="stroke: #000000; stroke-width: 0.6"/> </g> </g> </g> <g id="text_21"> <g transform="translate(363.4714 122.8122) rotate(-90)"><text transform="translate(0.212 -0.720) scale(1.0730 1.0500)" font-size="10.000" font-style="italic" stroke="#000" stroke-width="0.112">ε</text><text transform="translate(22.610 -0.720) scale(1.0730 1.0500)" font-size="10.000" font-style="italic" stroke="#000" stroke-width="0.112">ε</text><text transform="translate(5.617 0.840) scale(1.0340 1.0308)" font-size="7.000" font-style="italic" stroke="#000" stroke-width="0.116">g</text><text transform="translate(28.014 1.934) scale(1.0340 1.0308)" font-size="7.000" font-style="italic" stroke="#000" stroke-width="0.116">g</text><text transform="translate(12.494 -0.022) scale(1.2884 1.1644)" font-size="10.000" stroke="#000" stroke-width="0.093">−</text><text transform="translate(28.728 -4.687) scale(0.9844 0.9846)" font-size="7.000" stroke="#000" stroke-width="0.122">∞</text></g> </g> </g> <g id="LineCollection_2"> <path d="M 443.553041 186.073469  L 443.553041 27.918367  " clip-path="url(#pcd36d85795)" style="fill: none; stroke: #ff0000; stroke-width: 1.5"/> <path d="M 470.272944 109.273469  L 470.272944 34.089796  " clip-path="url(#pcd36d85795)" style="fill: none; stroke: #ff0000; stroke-width: 1.5"/> <path d="M 496.992847 116.620408  L 496.992847 50.840816  " clip-path="url(#pcd36d85795)" style="fill: none; stroke: #ff0000; stroke-width: 1.5"/> <path d="M 523.71275 124.457143  L 523.71275 60.783673  " clip-path="url(#pcd36d85795)" style="fill: none; stroke: #ff0000; stroke-width: 1.5"/> <path d="M 550.432653 121.714286  L 550.432653 81.306122  " clip-path="url(#pcd36d85795)" style="fill: none; stroke: #ff0000; stroke-width: 1.5"/> <path d="M 577.152556 141.697959  L 577.152556 94.579592  " clip-path="url(#pcd36d85795)" style="fill: none; stroke: #ff0000; stroke-width: 1.5"/> <path d="M 603.872459 162.171429  L 603.872459 109.763265  " clip-path="url(#pcd36d85795)" style="fill: none; stroke: #ff0000; stroke-width: 1.5"/> <path d="M 630.592362 187.2  L 630.592362 125.338776  " clip-path="url(#pcd36d85795)" style="fill: none; stroke: #ff0000; stroke-width: 1.5"/> <path d="M 657.312265 185.240816  L 657.312265 138.906122  " clip-path="url(#pcd36d85795)" style="fill: none; stroke: #ff0000; stroke-width: 1.5"/> </g> <g id="line2d_105"> <g clip-path="url(#pcd36d85795)"> <use href="#m98ba5d0a64" x="443.553041" y="186.073469" style="fill: #1f77b4; stroke: #ff0000"/> <use href="#m98ba5d0a64" x="470.272944" y="109.273469" style="fill: #1f77b4; stroke: #ff0000"/> <use href="#m98ba5d0a64" x="496.992847" y="116.620408" style="fill: #1f77b4; stroke: #ff0000"/> <use href="#m98ba5d0a64" x="523.71275" y="124.457143" style="fill: #1f77b4; stroke: #ff0000"/> <use href="#m98ba5d0a64" x="550.432653" y="121.714286" style="fill: #1f77b4; stroke: #ff0000"/> <use href="#m98ba5d0a64" x="577.152556" y="141.697959" style="fill: #1f77b4; stroke: #ff0000"/> <use href="#m98ba5d0a64" x="603.872459" y="162.171429" style="fill: #1f77b4; stroke: #ff0000"/> <use href="#m98ba5d0a64" x="630.592362" y="187.2" style="fill: #1f77b4; stroke: #ff0000"/> <use href="#m98ba5d0a64" x="657.312265" y="185.240816" style="fill: #1f77b4; stroke: #ff0000"/> </g> </g> <g id="line2d_106"> <g clip-path="url(#pcd36d85795)"> <use href="#m98ba5d0a64" x="443.553041" y="27.918367" style="fill: #1f77b4; stroke: #ff0000"/> <use href="#m98ba5d0a64" x="470.272944" y="34.089796" style="fill: #1f77b4; stroke: #ff0000"/> <use href="#m98ba5d0a64" x="496.992847" y="50.840816" style="fill: #1f77b4; stroke: #ff0000"/> <use href="#m98ba5d0a64" x="523.71275" y="60.783673" style="fill: #1f77b4; stroke: #ff0000"/> <use href="#m98ba5d0a64" x="550.432653" y="81.306122" style="fill: #1f77b4; stroke: #ff0000"/> <use href="#m98ba5d0a64" x="577.152556" y="94.579592" style="fill: #1f77b4; stroke: #ff0000"/> <use href="#m98ba5d0a64" x="603.872459" y="109.763265" style="fill: #1f77b4; stroke: #ff0000"/> <use href="#m98ba5d0a64" x="630.592362" y="125.338776" style="fill: #1f77b4; stroke: #ff0000"/> <use href="#m98ba5d0a64" x="657.312265" y="138.906122" style="fill: #1f77b4; stroke: #ff0000"/> </g> </g> <g id="line2d_107"> <path d="M 416.718367 28.311705  L 429.240106 33.411026  L 441.761846 38.74083  L 455.177995 44.697627  L 468.594144 50.899182  L 482.010293 57.335238  L 496.320852 64.447281  L 510.631411 71.802018  L 525.83638 79.868425  L 541.041349 88.179828  L 557.140728 97.230584  L 574.134516 107.044399  L 592.022715 117.640957  L 610.805324 129.035049  L 630.482343 141.235669  L 651.948181 154.816009  L 675.202839 169.799247  L 684.146939 175.626193  L 684.146939 175.626193  " clip-path="url(#pcd36d85795)" style="fill: none; stroke: #0000ff; stroke-width: 1.5; stroke-linecap: square"/> </g> <g id="line2d_108"> <path d="M 416.718367 23.387755  L 624.718367 119.142857  " clip-path="url(#pcd36d85795)" style="fill: none; stroke-dasharray: 5.55,2.4; stroke-dashoffset: 0; stroke: #008000; stroke-width: 1.5"/> </g> <g id="line2d_109"> <path d="M 476.146939 43.297959  L 684.146939 170.987755  " clip-path="url(#pcd36d85795)" style="fill: none; stroke-dasharray: 5.55,2.4; stroke-dashoffset: 0; stroke: #000000; stroke-width: 1.5"/> </g> <g id="line2d_110"> <g clip-path="url(#pcd36d85795)"> <use href="#m5010040dd1" x="443.553041" y="52.261224" style="fill: #ff0000"/> <use href="#m5010040dd1" x="470.272944" y="54.563265" style="fill: #ff0000"/> <use href="#m5010040dd1" x="496.992847" y="70.236735" style="fill: #ff0000"/> <use href="#m5010040dd1" x="523.71275" y="79.836735" style="fill: #ff0000"/> <use href="#m5010040dd1" x="550.432653" y="95.95102" style="fill: #ff0000"/> <use href="#m5010040dd1" x="577.152556" y="110.644898" style="fill: #ff0000"/> <use href="#m5010040dd1" x="603.872459" y="127.053061" style="fill: #ff0000"/> <use href="#m5010040dd1" x="630.592362" y="144.244898" style="fill: #ff0000"/> <use href="#m5010040dd1" x="657.312265" y="155.069388" style="fill: #ff0000"/> </g> </g> <g id="patch_9"> <path d="M 403.346939 195.404082  L 403.346939 14.938776  " style="fill: none; stroke: #000000; stroke-width: 0.979592; stroke-linejoin: miter; stroke-linecap: square"/> </g> <g id="patch_10"> <path d="M 697.518367 195.404082  L 697.518367 14.938776  " style="fill: none; stroke: #000000; stroke-width: 0.979592; stroke-linejoin: miter; stroke-linecap: square"/> </g> <g id="patch_11"> <path d="M 403.346939 195.404082  L 697.518367 195.404082  " style="fill: none; stroke: #000000; stroke-width: 0.979592; stroke-linejoin: miter; stroke-linecap: square"/> </g> <g id="patch_12"> <path d="M 403.346939 14.938776  L 697.518367 14.938776  " style="fill: none; stroke: #000000; stroke-width: 0.979592; stroke-linejoin: miter; stroke-linecap: square"/> </g> <g id="text_22"> <g transform="translate(479.1208 9.1347)"><text transform="translate(0.101 -0.075) scale(1.0721 1.0429)" font-size="12.000" font-style="italic" stroke="#000" stroke-width="0.112">α</text><text transform="translate(48.055 -0.094) scale(1.2218 1.0408)" font-size="12.000" font-style="italic" stroke="#000" stroke-width="0.098">r</text><text transform="translate(92.945 -0.046) scale(1.0172 1.0436)" font-size="12.000" font-style="italic" stroke="#000" stroke-width="0.118">σ</text><text transform="translate(10.765 -0.391) scale(1.2884 0.8758)" font-size="12.000" stroke="#000" stroke-width="0.093">=</text><text transform="translate(22.906 -0.094) scale(1.0161 1.0629)" font-size="12.000" stroke="#000" stroke-width="0.118">2</text><text transform="translate(30.373 -0.094) scale(1.0821 1.1598)" font-size="12.000" stroke="#000" stroke-width="0.111">.</text><text transform="translate(34.387 -0.049) scale(1.0541 1.0683)" font-size="12.000" stroke="#000" stroke-width="0.114">0</text><text transform="translate(41.079 -0.269) scale(1.4577 1.0229)" font-size="12.000" stroke="#000" stroke-width="0.082">,</text><text transform="translate(55.665 -0.391) scale(1.2884 0.8758)" font-size="12.000" stroke="#000" stroke-width="0.093">=</text><text transform="translate(67.838 -0.049) scale(1.0541 1.0683)" font-size="12.000" stroke="#000" stroke-width="0.114">0</text><text transform="translate(75.273 -0.094) scale(1.0821 1.1598)" font-size="12.000" stroke="#000" stroke-width="0.111">.</text><text transform="translate(79.438 -0.049) scale(0.9949 1.0651)" font-size="12.000" stroke="#000" stroke-width="0.121">5</text><text transform="translate(85.979 -0.269) scale(1.4577 1.0229)" font-size="12.000" stroke="#000" stroke-width="0.082">,</text><text transform="translate(103.237 -0.391) scale(1.2884 0.8758)" font-size="12.000" stroke="#000" stroke-width="0.093">=</text><text transform="translate(115.410 -0.049) scale(1.0541 1.0683)" font-size="12.000" stroke="#000" stroke-width="0.114">0</text><text transform="translate(122.846 -0.094) scale(1.0821 1.1598)" font-size="12.000" stroke="#000" stroke-width="0.111">.</text><text transform="translate(126.859 -0.049) scale(1.0541 1.0683)" font-size="12.000" stroke="#000" stroke-width="0.114">0</text><text transform="translate(134.645 -0.049) scale(0.9949 1.0651)" font-size="12.000" stroke="#000" stroke-width="0.121">5</text></g> </g> <g id="legend_2"> <g id="patch_13"> <path d="M 556.28243 81.651276  L 690.518367 81.651276  Q 692.518367 81.651276 692.518367 79.651276  L 692.518367 21.938776  Q 692.518367 19.938776 690.518367 19.938776  L 556.28243 19.938776  Q 554.28243 19.938776 554.28243 21.938776  L 554.28243 79.651276  Q 554.28243 81.651276 556.28243 81.651276  z " style="fill: #ffffff; opacity: 0.8; stroke: #cccccc; stroke-linejoin: miter"/> </g> <g id="line2d_111"> <path d="M 558.28243 28.037213  L 568.28243 28.037213  L 578.28243 28.037213  " style="fill: none; stroke: #0000ff; stroke-width: 1.5; stroke-linecap: square"/> </g> <g id="text_23"> <text transform="translate(586.202 31.674) scale(1.3365 1.0731)" font-size="10.000" stroke="#000" stroke-width="0.090">t</text><text transform="translate(590.212 31.758) scale(1.0856 1.0485)" font-size="10.000" stroke="#000" stroke-width="0.111">h</text><text transform="translate(596.487 31.797) scale(1.0801 1.0481)" font-size="10.000" stroke="#000" stroke-width="0.111">e</text><text transform="translate(602.652 31.797) scale(1.0631 1.0481)" font-size="10.000" stroke="#000" stroke-width="0.113">o</text><text transform="translate(608.722 31.758) scale(1.2812 1.0408)" font-size="10.000" stroke="#000" stroke-width="0.094">r</text><text transform="translate(613.048 31.709) scale(1.0739 1.0259)" font-size="10.000" stroke="#000" stroke-width="0.112">y</text> </g> <g id="line2d_112"> <g> <use href="#m5010040dd1" x="568.28243" y="42.715338" style="fill: #ff0000"/> </g> </g> <g id="text_24"> <text transform="translate(586.411 46.475) scale(0.9586 1.0509)" font-size="10.000" stroke="#000" stroke-width="0.125">s</text><text transform="translate(591.604 46.436) scale(1.0222 1.0485)" font-size="10.000" stroke="#000" stroke-width="0.117">i</text><text transform="translate(594.275 46.436) scale(1.1394 1.0408)" font-size="10.000" stroke="#000" stroke-width="0.105">m</text><text transform="translate(604.014 46.473) scale(1.0782 1.0672)" font-size="10.000" stroke="#000" stroke-width="0.111">u</text><text transform="translate(610.456 46.436) scale(1.0222 1.0485)" font-size="10.000" stroke="#000" stroke-width="0.117">l</text><text transform="translate(613.200 46.475) scale(0.8992 1.0481)" font-size="10.000" stroke="#000" stroke-width="0.133">a</text><text transform="translate(619.175 46.352) scale(1.3365 1.0731)" font-size="10.000" stroke="#000" stroke-width="0.090">t</text><text transform="translate(623.289 46.436) scale(1.0222 1.0485)" font-size="10.000" stroke="#000" stroke-width="0.117">i</text><text transform="translate(625.914 46.475) scale(1.0631 1.0481)" font-size="10.000" stroke="#000" stroke-width="0.113">o</text><text transform="translate(632.119 46.436) scale(1.0782 1.0408)" font-size="10.000" stroke="#000" stroke-width="0.111">n</text><text transform="translate(638.540 46.475) scale(0.9586 1.0509)" font-size="10.000" stroke="#000" stroke-width="0.125">s</text> </g> <g id="line2d_113"> <path d="M 558.28243 57.393463  L 568.28243 57.393463  L 578.28243 57.393463  " style="fill: none; stroke-dasharray: 5.55,2.4; stroke-dashoffset: 0; stroke: #008000; stroke-width: 1.5"/> </g> <g id="text_25"> <text transform="translate(586.471 60.453) scale(0.8453 0.9560)" font-size="10.000" stroke="#000" stroke-width="0.142">(</text><text transform="translate(590.229 61.114) scale(1.0782 1.0408)" font-size="10.000" stroke="#000" stroke-width="0.111">n</text><text transform="translate(596.480 61.153) scale(1.0631 1.0481)" font-size="10.000" stroke="#000" stroke-width="0.113">o</text><text transform="translate(602.751 61.114) scale(1.0222 1.0485)" font-size="10.000" stroke="#000" stroke-width="0.117">i</text><text transform="translate(605.546 61.153) scale(0.9586 1.0509)" font-size="10.000" stroke="#000" stroke-width="0.125">s</text><text transform="translate(610.574 61.153) scale(1.0801 1.0481)" font-size="10.000" stroke="#000" stroke-width="0.111">e</text><text transform="translate(616.887 61.114) scale(1.0222 1.0485)" font-size="10.000" stroke="#000" stroke-width="0.117">l</text><text transform="translate(619.505 61.153) scale(1.0801 1.0481)" font-size="10.000" stroke="#000" stroke-width="0.111">e</text><text transform="translate(625.839 61.153) scale(0.9586 1.0509)" font-size="10.000" stroke="#000" stroke-width="0.125">s</text><text transform="translate(631.049 61.153) scale(0.9586 1.0509)" font-size="10.000" stroke="#000" stroke-width="0.125">s</text><text transform="translate(636.735 60.453) scale(0.8453 0.9560)" font-size="10.000" stroke="#000" stroke-width="0.142">)</text><text transform="translate(643.319 61.151) scale(0.8914 1.0683)" font-size="10.000" stroke="#000" stroke-width="0.135">S</text><text transform="translate(649.445 61.114) scale(1.0148 1.0596)" font-size="10.000" stroke="#000" stroke-width="0.118">V</text><text transform="translate(656.416 61.114) scale(0.9971 1.0596)" font-size="10.000" stroke="#000" stroke-width="0.120">M</text><text transform="translate(668.117 61.114) scale(1.2812 1.0408)" font-size="10.000" stroke="#000" stroke-width="0.094">r</text><text transform="translate(672.389 61.153) scale(0.8992 1.0481)" font-size="10.000" stroke="#000" stroke-width="0.133">a</text><text transform="translate(678.365 61.030) scale(1.3365 1.0731)" font-size="10.000" stroke="#000" stroke-width="0.090">t</text><text transform="translate(682.312 61.153) scale(1.0801 1.0481)" font-size="10.000" stroke="#000" stroke-width="0.111">e</text> </g> <g id="line2d_114"> <path d="M 558.28243 72.071588  L 568.28243 72.071588  L 578.28243 72.071588  " style="fill: none; stroke-dasharray: 5.55,2.4; stroke-dashoffset: 0; stroke: #000000; stroke-width: 1.5"/> </g> <g id="text_26"> <text transform="translate(586.328 75.792) scale(1.0782 1.0408)" font-size="10.000" stroke="#000" stroke-width="0.111">n</text><text transform="translate(592.579 75.831) scale(1.0631 1.0481)" font-size="10.000" stroke="#000" stroke-width="0.113">o</text><text transform="translate(598.850 75.792) scale(1.0222 1.0485)" font-size="10.000" stroke="#000" stroke-width="0.117">i</text><text transform="translate(601.645 75.831) scale(0.9586 1.0509)" font-size="10.000" stroke="#000" stroke-width="0.125">s</text><text transform="translate(606.851 75.743) scale(1.0739 1.0259)" font-size="10.000" stroke="#000" stroke-width="0.112">y</text><text transform="translate(615.931 75.829) scale(0.8914 1.0683)" font-size="10.000" stroke="#000" stroke-width="0.135">S</text><text transform="translate(622.058 75.792) scale(1.0148 1.0596)" font-size="10.000" stroke="#000" stroke-width="0.118">V</text><text transform="translate(629.029 75.792) scale(0.9971 1.0596)" font-size="10.000" stroke="#000" stroke-width="0.120">M</text><text transform="translate(640.729 75.792) scale(1.2812 1.0408)" font-size="10.000" stroke="#000" stroke-width="0.094">r</text><text transform="translate(645.002 75.831) scale(0.8992 1.0481)" font-size="10.000" stroke="#000" stroke-width="0.133">a</text><text transform="translate(650.977 75.708) scale(1.3365 1.0731)" font-size="10.000" stroke="#000" stroke-width="0.090">t</text><text transform="translate(654.925 75.831) scale(1.0801 1.0481)" font-size="10.000" stroke="#000" stroke-width="0.111">e</text> </g> </g> </g> </g> <defs> <clipPath id="p99e8277ba4"> <rect x="48.04898" y="14.938776" width="294.171429" height="180.465306"/> </clipPath> <clipPath id="pcd36d85795"> <rect x="403.346939" y="14.938776" width="294.171429" height="180.465306"/> </clipPath> </defs> </svg> 
</body></html>
